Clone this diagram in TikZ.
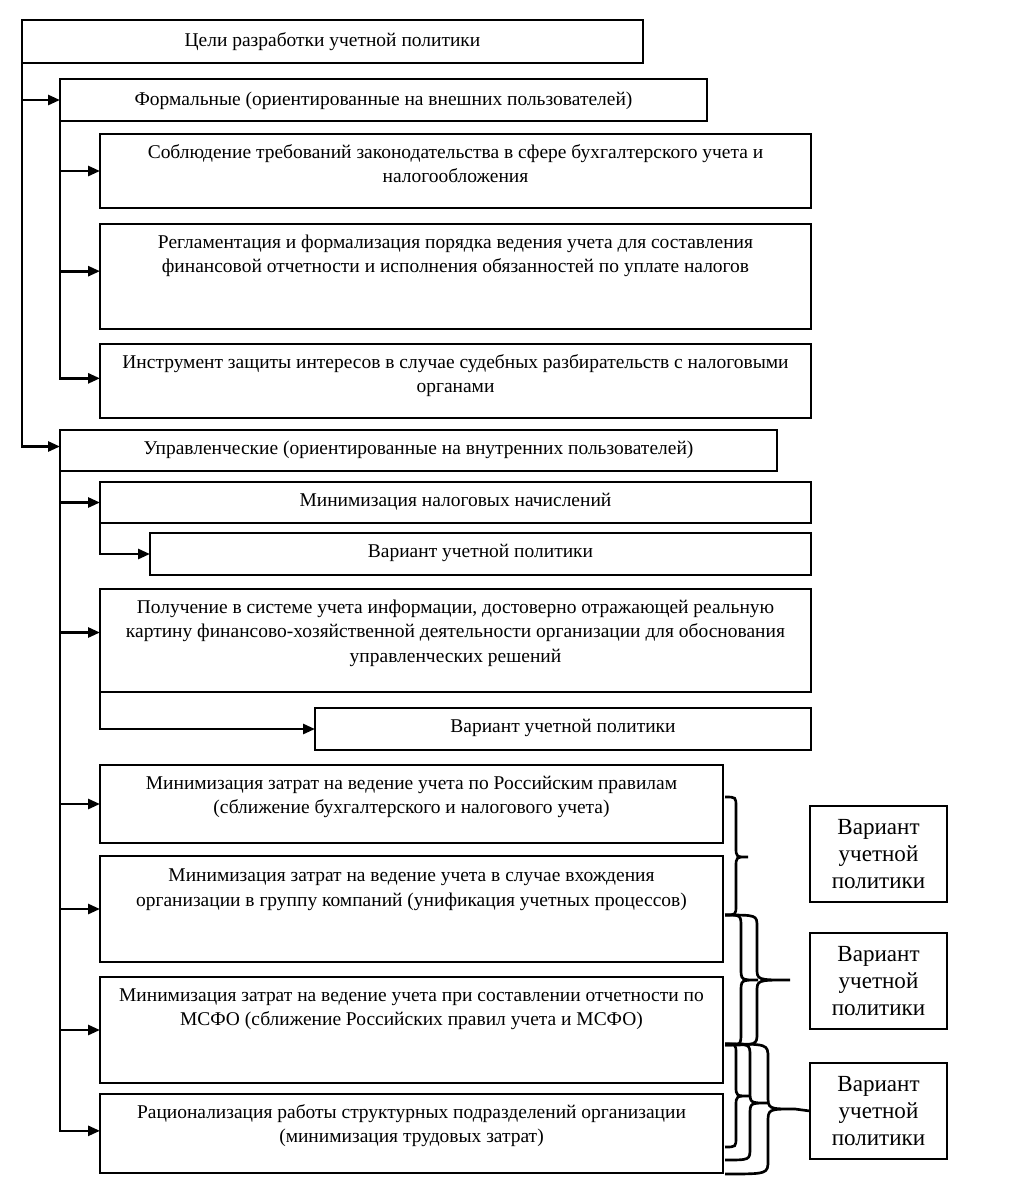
\documentclass[tikz,border=0pt]{standalone}
\usepackage{fontspec}
\setmainfont{Liberation Serif}
\usetikzlibrary{arrows.meta}
\tikzset{
  box/.style={draw, line width=1.8pt, rectangle, inner sep=0pt, outer sep=0pt, anchor=north west},
  txt/.style={inner sep=0pt, align=center, anchor=base, font=\fontsize{14.6}{18.4}\selectfont},
  vbox/.style={draw, line width=1.8pt, rectangle, inner sep=0pt, outer sep=0pt, align=center,
     minimum width=102.75pt, minimum height=72pt, font=\fontsize{17.3}{20.3}\selectfont},
  conn/.style={line width=2pt, -{Triangle[length=9pt,width=7.5pt]}},
  brc/.style={line width=2pt},
}
\newcommand\mkbox[5]{\node[box, minimum width={(#4-#2)*0.75pt}, minimum height={(#5-#3)*0.75pt}] (#1) at (#2,#3) {};}
\newcommand\brpath[7]{(#1,#2) .. controls (#4,#2) .. (#4,#2+#7) -- (#4,#6-#7) .. controls (#4,#6) .. (#5,#6) .. controls (#4,#6) .. (#4,#6+#7) -- (#4,#3-#7) .. controls (#4,#3) .. (#1,#3)}
\begin{document}
\begin{tikzpicture}[x=0.75pt,y=-0.75pt]
\useasboundingbox (0,0) rectangle (1011,1197);
\mkbox{title}{22}{20}{643}{63}
\mkbox{formal}{60}{79}{707}{121}
\mkbox{fa}{100}{134}{811}{208}
\mkbox{fb}{100}{224}{811}{329}
\mkbox{fc}{100}{344}{811}{418}
\mkbox{upr}{60}{430}{777}{471}
\mkbox{ua}{100}{482}{811}{523}
\mkbox{uav}{150}{533}{811}{575}
\mkbox{ub}{100}{589}{811}{692}
\mkbox{ubv}{315}{708}{811}{750}
\mkbox{uc}{100}{765}{723}{843}
\mkbox{ud}{100}{856}{723}{962}
\mkbox{ue}{100}{977}{723}{1083}
\mkbox{uf}{100}{1094}{723}{1173}

\node[txt] (titlet) at ([yshift=-19.5pt]title.north) {Цели разработки учетной политики};
\node[txt] (formalt) at ([yshift=-19.5pt]formal.north) {Формальные (ориентированные на внешних пользователей)};
\node[txt] (fat) at ([yshift=-36.4pt]fa.north) {Соблюдение требований законодательства в сфере бухгалтерского учета и\\налогообложения};
\node[txt] (fbt) at ([yshift=-36.4pt]fb.north) {Регламентация и формализация порядка ведения учета для составления\\финансовой отчетности и исполнения обязанностей по уплате налогов};
\node[txt] (fct) at ([yshift=-36.4pt]fc.north) {Инструмент защиты интересов в случае судебных разбирательств с налоговыми\\органами};
\node[txt] (uprt) at ([yshift=-18pt]upr.north) {Управленческие (ориентированные на внутренних пользователей)};
\node[txt] (uat) at ([yshift=-18pt]ua.north) {Минимизация налоговых начислений};
\node[txt] (uavt) at ([yshift=-18pt]uav.north) {Вариант учетной политики};
\node[txt] (ubt) at ([yshift=-54.8pt]ub.north) {Получение в системе учета информации, достоверно отражающей реальную\\картину финансово-хозяйственной деятельности организации для обоснования\\управленческих решений};
\node[txt] (ubvt) at ([yshift=-18.5pt]ubv.north) {Вариант учетной политики};
\node[txt] (uct) at ([yshift=-36.4pt]uc.north) {Минимизация затрат на ведение учета по Российским правилам\\(сближение бухгалтерского и налогового учета)};
\node[txt] (udt) at ([yshift=-37.6pt]ud.north) {Минимизация затрат на ведение учета в случае вхождения\\организации в группу компаний (унификация учетных процессов)};
\node[txt] (uet) at ([yshift=-36.4pt]ue.north) {Минимизация затрат на ведение учета при составлении отчетности по\\МСФО (сближение Российских правил учета и МСФО)};
\node[txt] (uft) at ([yshift=-36.4pt]uf.north) {Рационализация работы структурных подразделений организации\\(минимизация трудовых затрат)};

\node[vbox] (v1) at (878.5,854) {Вариант\\учетной\\политики};
\node[vbox] (v2) at (878.5,981) {Вариант\\учетной\\политики};
\node[vbox] (v3) at (878.5,1111) {Вариант\\учетной\\политики};

% connectors
\draw[conn] (title.south west) |- (formal.west);
\draw[conn] (title.south west) |- ([yshift=3pt]upr.west);
\draw[conn] (formal.south west) |- (fa.west);
\draw[conn] (formal.south west) |- ([yshift=4pt]fb.west);
\draw[conn] (formal.south west) |- ([yshift=2pt]fc.west);
\draw[conn] (upr.south west) |- (ua.west);
\draw[conn] (ua.south west) |- (uav.west);
\draw[conn] (upr.south west) |- ([yshift=6pt]ub.west);
\draw[conn] (ub.south west) |- (ubv.west);
\draw[conn] (upr.south west) |- (uc.west);
\draw[conn] (upr.south west) |- (ud.west);
\draw[conn] (upr.south west) |- (ue.west);
\draw[conn] (upr.south west) |- ([yshift=2pt]uf.west);

% braces
\draw[brc] \brpath{725}{797}{915}{736}{748}{857}{10};
\draw[brc] \brpath{725}{915}{1045}{741}{758}{980}{12};
\draw[brc] \brpath{725}{915}{1045}{757}{790}{980}{12};
\draw[brc] \brpath{725}{1044}{1147}{736}{750}{1096}{10};
\draw[brc] \brpath{725}{1044}{1160}{750}{768}{1103}{12};
\draw[brc] \brpath{725}{1044}{1174}{768}{795}{1109}{14};
\coordinate (b3tip) at (795,1109);
\draw[brc] (b3tip) -- (v3.west);
\end{tikzpicture}
\end{document}
